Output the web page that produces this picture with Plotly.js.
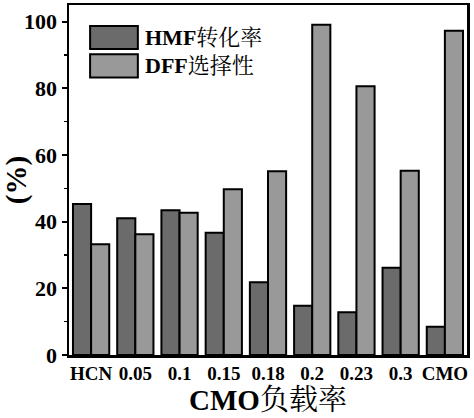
<!DOCTYPE html>
<html>
<head>
<meta charset="utf-8">
<script src="https://cdn.plot.ly/plotly-3.0.1.min.js"></script>
<style>html,body{margin:0;padding:0;background:#fff;}#chart{width:474px;height:418px;}</style>
</head>
<body>
<div id="chart"></div>
<script>
const categories = ["HCN", "0.05", "0.1", "0.15", "0.18", "0.2", "0.23", "0.3", "CMO"];
const hmfConversion = [45.3, 41.0, 43.4, 36.7, 21.8, 14.8, 12.8, 26.2, 8.5];
const dffSelectivity = [33.2, 36.2, 42.7, 49.7, 55.1, 99.1, 80.6, 55.3, 97.3];
const seriesNames = ["<b>HMF</b>转化率", "<b>DFF</b>选择性"];
const yTickVals = [0, 20, 40, 60, 80, 100];

const FONT = "'Liberation Serif', 'Times New Roman', 'Noto Serif CJK SC', 'Noto Sans CJK SC', serif";
const colors = ["#6b6b6b", "#999999"];

const traces = [
  {type: "bar", x: categories, y: hmfConversion, name: seriesNames[0],
   marker: {color: colors[0], line: {color: "#000", width: 2}}, showlegend: false},
  {type: "bar", x: categories, y: dffSelectivity, name: seriesNames[1],
   marker: {color: colors[1], line: {color: "#000", width: 2}}, showlegend: false}
];

// custom legend (large swatches like the reference)
const legY = [0.907, 0.826];
const shapes = [];
const annotations = [];
for (let i = 0; i < 2; i++) {
  shapes.push({type: "rect", xref: "paper", yref: "paper",
    x0: 0.053, x1: 0.173, y0: legY[i] - 0.033, y1: legY[i] + 0.033,
    fillcolor: colors[i], line: {color: "#000", width: 2}});
  annotations.push({xref: "paper", yref: "paper", x: 0.185, y: legY[i],
    xanchor: "left", yanchor: "middle", showarrow: false,
    text: seriesNames[i], font: {family: FONT, size: 22, color: "#000"}});
}

const layout = {
  width: 474, height: 418,
  margin: {l: 69, r: 7, t: 5, b: 63},
  paper_bgcolor: "#fff", plot_bgcolor: "#fff",
  barmode: "group", bargap: 0.18, bargroupgap: 0,
  font: {family: FONT, color: "#000"},
  xaxis: {
    type: "category", range: [-0.5, 8.5],
    showline: true, linecolor: "#000", linewidth: 2.5, mirror: true,
    ticks: "", showgrid: false, zeroline: false,
    tickfont: {family: FONT, size: 19, weight: "bold", color: "#000"},
    title: {text: "<b>CMO</b>负载率", font: {family: FONT, size: 29, color: "#000"}, standoff: 2}
  },
  yaxis: {
    range: [0, 105], tickvals: yTickVals,
    showline: true, linecolor: "#000", linewidth: 2.5, mirror: true,
    ticks: "outside", ticklen: 5, tickwidth: 2, tickcolor: "#000",
    minor: {dtick: 10, ticks: "outside", ticklen: 3, tickwidth: 1.5, tickcolor: "#000"},
    showgrid: false, zeroline: false,
    tickfont: {family: FONT, size: 22, weight: "bold", color: "#000"},
    title: {text: "<b>(%)</b>", font: {family: FONT, size: 29, color: "#000"}, standoff: 2}
  },
  shapes: shapes,
  annotations: annotations
};

Plotly.newPlot("chart", traces, layout, {displayModeBar: false, staticPlot: true});
</script>
</body>
</html>
